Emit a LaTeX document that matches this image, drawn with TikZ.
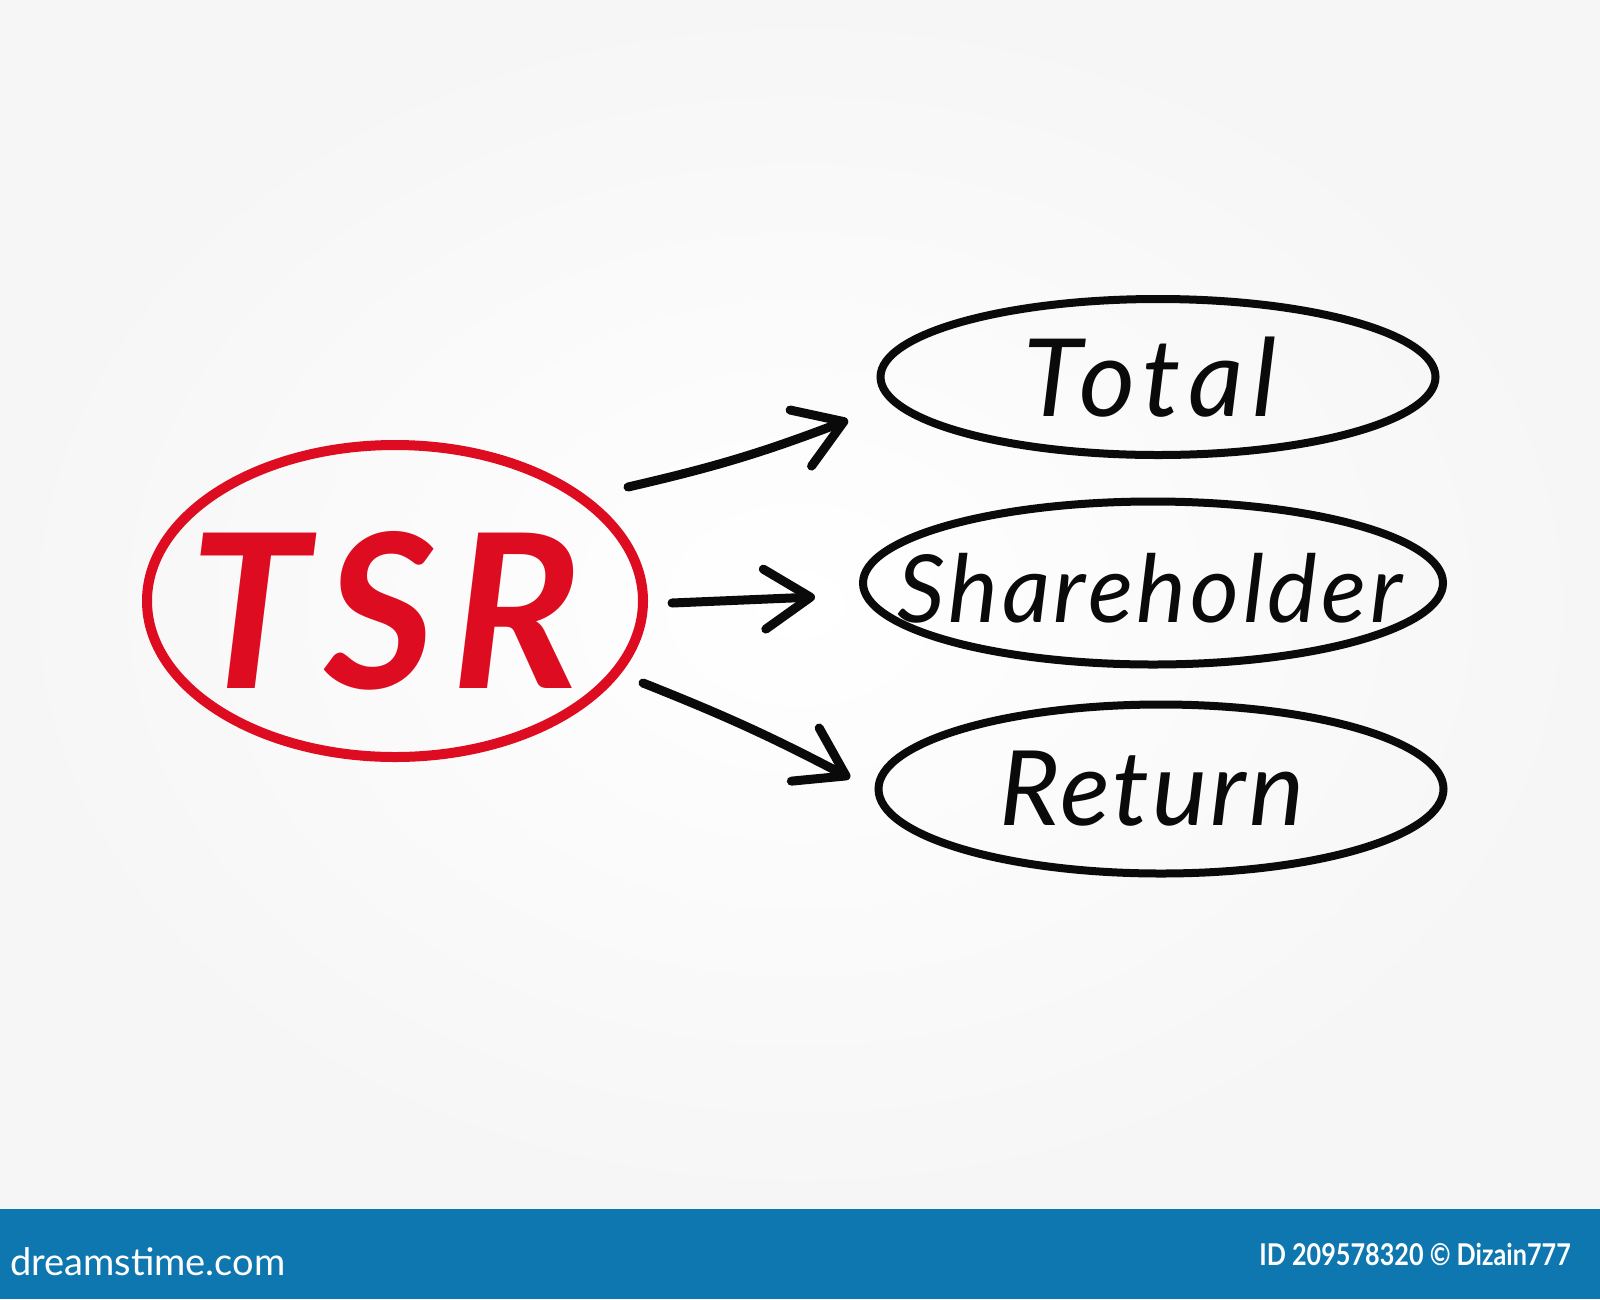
\documentclass[tikz,border=0pt]{standalone}
\usepackage{fontspec}
\setmainfont{Lato}
\usetikzlibrary{shapes.geometric,arrows.meta}
\definecolor{tsrred}{RGB}{221,12,32}
\definecolor{barblue}{RGB}{14,119,175}
\definecolor{inkblack}{RGB}{10,10,10}
\begin{document}
\begin{tikzpicture}[x=1pt,y=-1pt,
  bubble/.style={ellipse, draw=inkblack, line width=8pt, inner sep=0pt},
  hand/.style={font=\fontsize{108}{108}\selectfont\itshape, text=inkblack, inner sep=0pt},
  arr/.style={draw=inkblack, line width=9pt, line cap=round,
    -{Straight Barb[length=46pt,width=60pt,line cap=round,line join=round]}}]
\useasboundingbox (0,0) rectangle (1600,1299);
\shade[inner color=white, outer color=gray!7] (0,0) rectangle (1600,1209);
\fill[barblue] (0,1209) rectangle (1600,1299);

% central red bubble
\node[ellipse, draw=tsrred, line width=10pt, inner sep=0pt,
      minimum width=496pt, minimum height=312pt] (tsrring) at (395,601) {};
\node[text=tsrred, inner sep=0pt, font=\fontsize{215}{215}\selectfont\bfseries\itshape] (tsr) at (385,611) {T\kern16pt S\kern16pt R};

% right bubbles
\node[bubble, minimum width=555pt, minimum height=156pt] (totalring) at (1158,377) {};
\node[hand, font=\fontsize{108}{108}\selectfont\itshape\addfontfeatures{LetterSpace=8}] (total) at (1150,377) {Total};
\node[bubble, minimum width=580pt, minimum height=163pt] (sharering) at (1153,583) {};
\node[hand, font=\fontsize{94}{94}\selectfont\itshape\addfontfeatures{LetterSpace=4}] (share) at (1150,588) {Shareholder};
\node[bubble, minimum width=565pt, minimum height=169pt] (retring) at (1161,789) {};
\node[hand, font=\fontsize{104}{104}\selectfont\itshape\addfontfeatures{LetterSpace=3}] (ret) at (1152,789) {Return};

% arrows
\coordinate (a1s) at (628,487);
\coordinate (a1e) at (848,420);
\coordinate (a2s) at (672,603);
\coordinate (a2e) at (815,597);
\coordinate (a3s) at (643,683);
\coordinate (a3e) at (850,778);
\draw[arr] (a1s) to[bend right=4] (a1e);
\draw[arr] (a2s) -- (a2e);
\draw[arr] (a3s) to[bend left=3] (a3e);

% footer
\node[anchor=west, text=white, inner sep=0pt, font=\fontsize{38}{38}\selectfont] (brand) at (10,1262) {dreamstime.com};
\node[anchor=east, text=white, inner sep=0pt, font=\fontsize{30}{30}\selectfont\bfseries] (credit) at (1571,1254) {\scalebox{0.84}[1]{ID 209578320 © Dizain777}};
\end{tikzpicture}
\end{document}
